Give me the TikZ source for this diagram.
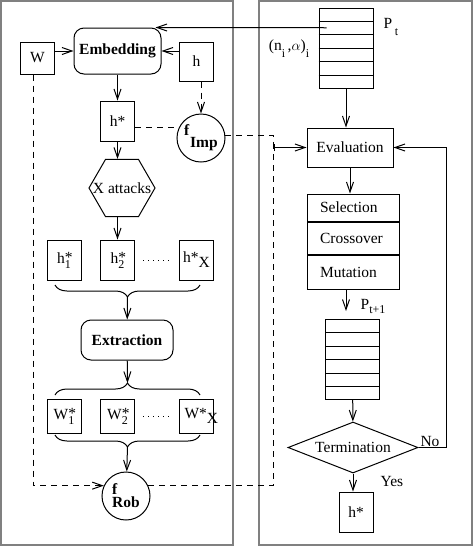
\documentclass[tikz,border=0pt]{standalone}
\usepackage{fontspec}
\setmainfont{Liberation Serif}
\usetikzlibrary{shapes, calc, arrows.meta, positioning, decorations.pathreplacing}
\definecolor{panelgray}{gray}{0.5}
\newcommand{\bodyfont}{\fontsize{15.5}{18}\selectfont}
\newcommand{\lowsz}{\fontsize{12}{12}\selectfont}
\newcommand{\stk}[2]{#1\rlap{\raisebox{1pt}{*}}\raisebox{-5pt}{\lowsz #2}}

\begin{document}
\begin{tikzpicture}[x=1pt,y=-1pt,>={Straight Barb[length=10pt,width=7pt]},line width=1pt,font=\bodyfont]
	\tikzset{box/.style={draw,minimum width=34,minimum height=40,inner sep=0},
		rbox/.style={draw,rounded corners=10,inner sep=0,font=\bodyfont\bfseries},
		disc/.style={draw,circle,minimum size=48,inner sep=0,align=left,font=\bodyfont\bfseries},
		queue/.style={draw,minimum width=54,minimum height=80,inner sep=0},
		part/.style={draw,minimum width=92,text width=66,inner xsep=13,inner ysep=0,align=left},
		dashline/.style={dash pattern=on 6pt off 5pt},
		dots/.style={dash pattern=on 1pt off 4pt,shorten <=8pt,shorten >=8pt}}
	\useasboundingbox (0,0) rectangle (474,547);
	\draw[panelgray,line width=2pt] (1,1) rectangle (233,545);
	\draw[panelgray,line width=2pt] (259,1) rectangle (472,545);

	% watermarking side
	\node[box,minimum height=32] (w) at (37.5,58) {W};
	\node[rbox,minimum width=87,minimum height=46] (emb) at (117.5,51) {Embedding};
	\node[box,minimum height=39] (h) at (196.5,61.5) {h};
	\node[box] (hs) at (117.5,121) {h*};
	\node[disc] (fimp) at (201,138) {f\\[-6pt]\hspace*{6pt}Imp};
	\node[draw,regular polygon,regular polygon sides=6,minimum size=66,inner sep=0,label=center:X attacks] (att) at (122,188) {};
	\node[box] (h1) at (64,260) {\stk{h}{1}};
	\node[box] (h2) at (117.5,260) {\stk{h}{2}};
	\node[box] (hx) at (196.5,260) {h*\raisebox{-5pt}{X}};
	\node[rbox,minimum width=92,minimum height=40] (ext) at (127,340) {Extraction};
	\node[box,minimum height=34] (w1) at (64,416) {\stk{W}{1}};
	\node[box,minimum height=34] (w2) at (117.5,416) {\stk{W}{2}};
	\node[box,minimum height=34] (wx) at (196.5,416) {\makebox[24pt][l]{W*\raisebox{-5pt}{X}}};
	\node[disc] (frob) at (126,496) {f\\[-5pt]Rob};

	% GA side
	\node[queue] (pt) at (346,48) {};
	\node[draw,minimum width=86,minimum height=39,inner sep=0] (eval) at (350,147.5) {Evaluation};
	\node[part,minimum height=27] (sel) at (353,207.5) {Selection};
	\node[part,minimum height=32,below=0pt of sel] (cro) {Crossover};
	\node[part,minimum height=34,below=0pt of cro] (mut) {Mutation};
	\node[queue] (pt1) at (352.5,359.5) {};
	\node[draw,diamond,aspect=2.55,minimum width=130,minimum height=51,inner sep=0] (term) at (353,447.5) {Termination};
	\node[box] (res) at (356,512) {h*};

	\node (ptlab) at (391,27) {P\,\raisebox{-7pt}{\lowsz t}};
	\node (pair) at (289,49) {(n\raisebox{-7pt}{\lowsz i}\,,$\alpha$)\raisebox{-7pt}{\lowsz i}};
	\node (pt1lab) at (373,306) {P\raisebox{-4pt}{\lowsz t+1}};
	\node (no) at (430,441) {No};
	\node (yes) at (392,481) {Yes};

	\foreach \q in {pt,pt1}
		\foreach \k in {1,...,5}
			\draw ($(\q.north west)!\k/6!(\q.south west)$) -- ($(\q.north east)!\k/6!(\q.south east)$);

	\coordinate (slot) at ($(pt.north west)!0.25!(pt.south west)+(8,0)$);
	\coordinate (b1) at (127.5,297);
	\coordinate (b2) at (127.5,383);
	\coordinate (b3) at (127.5,447);
	\coordinate (jn) at (273.5,147.5);

	\draw[dots] (h2) -- (hx);
	\draw[dots] (w2) -- (wx);
	\draw[decorate,decoration={brace,mirror,amplitude=12pt}] (55,285) -- (200,285);
	\draw[decorate,decoration={brace,amplitude=12pt}] (55,395) -- (200,395);
	\draw[decorate,decoration={brace,mirror,amplitude=12pt}] (55,435) -- (200,435);

	\path[->]
		(w.east |- emb.west) edge (emb.west)
		(h.west |- emb.east) edge (emb.east)
		(emb) edge (hs)
		(hs.south) edge (hs.south |- att.north)
		(att.south -| h2) edge (h2)
		(b1) edge (ext)
		(ext) edge (b2)
		(b3) edge (frob)
		(slot) edge ([xshift=-6pt]emb.north east)
		(pt.south) edge (pt.south |- eval.north)
		(eval.south) edge (eval.south |- sel.north)
		(mut.south -| pt) edge[shorten >=8pt] (pt1.north -| pt)
		(pt1) edge (term)
		(term.south) edge (term.south |- res.north);

	\draw[dashline,->] ([xshift=-4pt]w.south) |- (frob.155);
	\draw[dashline,->] (h.south -| fimp) -- (fimp.north);
	\draw[dashline] (hs.east |- fimp.155) -- (fimp.155);
	\draw[dashline] (fimp.7) -| (jn);
	\draw[dashline] (frob.25) -| (jn);
	\draw[|->] (jn) -- (eval.west);
	\draw[->] (term.east) -- ++(28,0) |- (eval.east);
\end{tikzpicture}
\end{document}
